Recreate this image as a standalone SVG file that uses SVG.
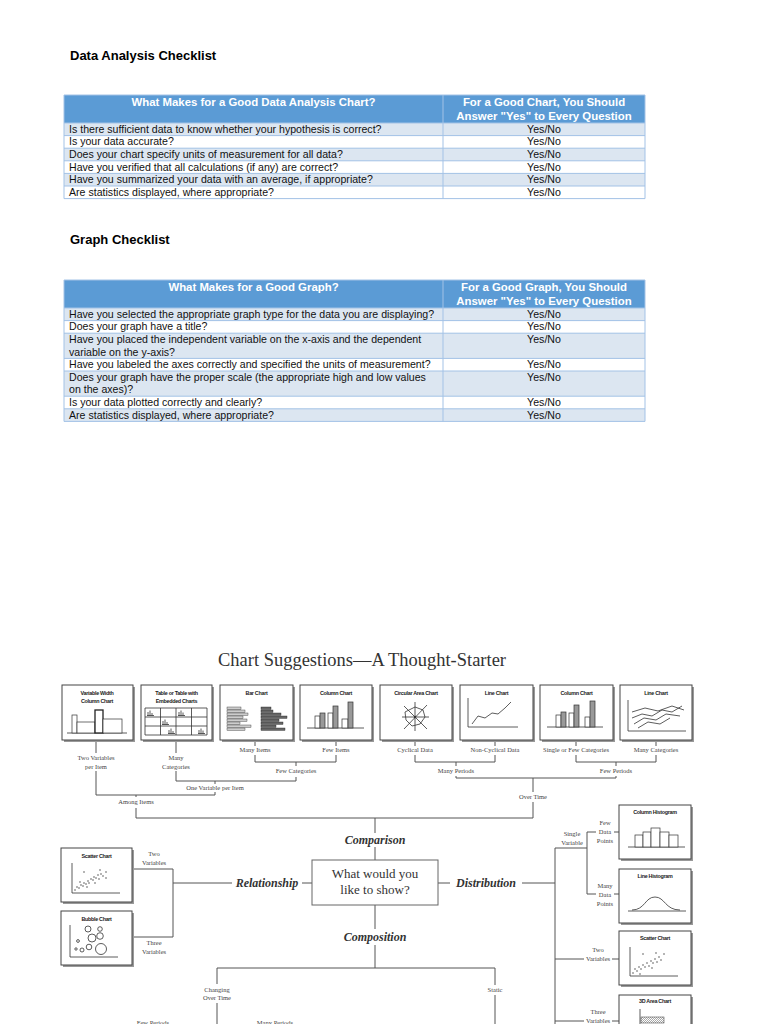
<svg xmlns="http://www.w3.org/2000/svg" width="768" height="1024" viewBox="0 0 768 1024">
<style>
.h1{font-family:"Liberation Sans",Arial,sans-serif;font-weight:bold;font-size:13px;fill:#000}
.th{font-family:"Liberation Sans",Arial,sans-serif;font-weight:bold;font-size:11.4px;fill:#fff;text-anchor:middle}
.tt{font-family:"Liberation Sans",Arial,sans-serif;font-size:10.6px;fill:#111}
.yn{font-family:"Liberation Sans",Arial,sans-serif;font-size:10.6px;fill:#111;text-anchor:middle}
.hdr{fill:#5b9bd5}
.alt{fill:#dce6f1}
.grid{stroke:#a3c2e6;stroke-width:1;fill:none}
.title{font-family:"Liberation Serif","Times New Roman",serif;font-size:19px;fill:#333}
.lbl{font-family:"Liberation Serif","Times New Roman",serif;font-size:6.5px;fill:#444;text-anchor:middle}
.big{font-family:"Liberation Serif","Times New Roman",serif;font-size:12px;font-weight:bold;font-style:italic;fill:#333;text-anchor:middle}
.q{font-family:"Liberation Serif","Times New Roman",serif;font-size:13px;fill:#333;text-anchor:middle}
.bt{font-family:"Liberation Sans",Arial,sans-serif;font-size:5.4px;font-weight:bold;fill:#222;text-anchor:middle;letter-spacing:-0.3px}
.box{fill:#fff;stroke:#444;stroke-width:1}
.sh{fill:#999}
.con{stroke:#555;stroke-width:1;fill:none}
.ic{stroke:#333;stroke-width:0.8;fill:none}
.wc{stroke:#333;stroke-width:0.7;fill:#fff}
.gc{stroke:#333;stroke-width:0.7;fill:#999}
.dot{fill:#333}
</style>
<defs>
<pattern id="hatch" width="2" height="2" patternUnits="userSpaceOnUse"><path d="M0,2 L2,0" stroke="#555" stroke-width="0.5"/></pattern>
</defs>

<!-- Data Analysis Checklist -->
<g id="table1">
<text class="h1" x="70" y="60">Data Analysis Checklist</text>
<rect class="hdr" x="64" y="95" width="581" height="28"/>
<rect class="alt" x="64" y="123" width="581" height="12.6"/>
<rect class="alt" x="64" y="148.2" width="581" height="12.6"/>
<rect class="alt" x="64" y="173.4" width="581" height="12.6"/>
<path class="grid" d="M64,95 H645 V198.6 H64 Z M64,123 H645 M64,135.6 H645 M64,148.2 H645 M64,160.8 H645 M64,173.4 H645 M64,186 H645 M443,95 V198.6"/>
<text class="th" x="253.5" y="106">What Makes for a Good Data Analysis Chart?</text>
<text class="th" x="544" y="106">For a Good Chart, You Should</text>
<text class="th" x="544" y="120">Answer "Yes" to Every Question</text>
<text class="tt" x="69" y="132.8">Is there sufficient data to know whether your hypothesis is correct?</text>
<text class="tt" x="69" y="145.4">Is your data accurate?</text>
<text class="tt" x="69" y="158">Does your chart specify units of measurement for all data?</text>
<text class="tt" x="69" y="170.6">Have you verified that all calculations (if any) are correct?</text>
<text class="tt" x="69" y="183.2">Have you summarized your data with an average, if appropriate?</text>
<text class="tt" x="69" y="195.8">Are statistics displayed, where appropriate?</text>
<text class="yn" x="544" y="132.8">Yes/No</text>
<text class="yn" x="544" y="145.4">Yes/No</text>
<text class="yn" x="544" y="158">Yes/No</text>
<text class="yn" x="544" y="170.6">Yes/No</text>
<text class="yn" x="544" y="183.2">Yes/No</text>
<text class="yn" x="544" y="195.8">Yes/No</text>
</g>

<!-- Graph Checklist -->
<g id="table2">
<text class="h1" x="70" y="244">Graph Checklist</text>
<rect class="hdr" x="64" y="280" width="581" height="28"/>
<rect class="alt" x="64" y="308" width="581" height="12.6"/>
<rect class="alt" x="64" y="333.2" width="581" height="25.2"/>
<rect class="alt" x="64" y="371" width="581" height="25.2"/>
<rect class="alt" x="64" y="408.8" width="581" height="12.6"/>
<path class="grid" d="M64,280 H645 V421.4 H64 Z M64,308 H645 M64,320.6 H645 M64,333.2 H645 M64,358.4 H645 M64,371 H645 M64,396.2 H645 M64,408.8 H645 M443,280 V421.4"/>
<text class="th" x="253.5" y="291">What Makes for a Good Graph?</text>
<text class="th" x="544" y="291">For a Good Graph, You Should</text>
<text class="th" x="544" y="305">Answer "Yes" to Every Question</text>
<text class="tt" x="69" y="317.8">Have you selected the appropriate graph type for the data you are displaying?</text>
<text class="tt" x="69" y="330.4">Does your graph have a title?</text>
<text class="tt" x="69" y="343">Have you placed the independent variable on the x-axis and the dependent</text>
<text class="tt" x="69" y="355.6">variable on the y-axis?</text>
<text class="tt" x="69" y="368.2">Have you labeled the axes correctly and specified the units of measurement?</text>
<text class="tt" x="69" y="380.8">Does your graph have the proper scale (the appropriate high and low values</text>
<text class="tt" x="69" y="393.4">on the axes)?</text>
<text class="tt" x="69" y="406">Is your data plotted correctly and clearly?</text>
<text class="tt" x="69" y="418.6">Are statistics displayed, where appropriate?</text>
<text class="yn" x="544" y="317.8">Yes/No</text>
<text class="yn" x="544" y="330.4">Yes/No</text>
<text class="yn" x="544" y="343">Yes/No</text>
<text class="yn" x="544" y="368.2">Yes/No</text>
<text class="yn" x="544" y="380.8">Yes/No</text>
<text class="yn" x="544" y="406">Yes/No</text>
<text class="yn" x="544" y="418.6">Yes/No</text>
</g>

<text class="title" x="218" y="666" textLength="288" lengthAdjust="spacingAndGlyphs">Chart Suggestions—A Thought-Starter</text>

<!-- Connectors -->
<g id="connectors">
<path class="con" d="M96,740 V753 M176,740 V753 M96,771 V795 H215 V792 M176,771 V781 H296 V777 M296,762 V766 M215,781 V784"/>
<path class="con" d="M255,740 V746 M336,740 V746 M255,755 V762 H336 V755"/>
<path class="con" d="M136,795 V797 M136,808 V818 H533 V802"/>
<path class="con" d="M415,740 V746 M495,740 V746 M415,755 V762 H495 V755 M456,762 V766"/>
<path class="con" d="M576,740 V746 M656,740 V746 M576,755 V762 H656 V755 M616,762 V766"/>
<path class="con" d="M456,776 V778 H616 V776 M533,778 V792"/>
<path class="con" d="M375,818 V833 M375,847 V860"/>
<path class="con" d="M312,883 H302 M232,883 H173 M173,869 V937 M132,869 H173 M132,937 H173"/>
<path class="con" d="M438,883 H450 M522,883 H555 M555,848 V1024 M555,848 H587 M587,832 V894 M587,832 H596 M614,832 H619 M587,894 H596 M614,894 H619 M555,959 H584 M612,959 H619 M555,1021 H584 M612,1021 H619"/>
<path class="con" d="M375,905 V929 M375,945 V968 M217,968 H495 M217,968 V984 M217,1003 V1024 M495,968 V985 M495,995 V1024"/>
</g>

<!-- connector labels -->
<g id="labels">
<text class="lbl" x="96" y="760">Two Variables</text>
<text class="lbl" x="96" y="769">per Item</text>
<text class="lbl" x="176" y="760">Many</text>
<text class="lbl" x="176" y="769">Categories</text>
<text class="lbl" x="255" y="752">Many Items</text>
<text class="lbl" x="336" y="752">Few Items</text>
<text class="lbl" x="296" y="773">Few Categories</text>
<text class="lbl" x="215" y="790">One Variable per Item</text>
<text class="lbl" x="136" y="804">Among Items</text>
<text class="lbl" x="415" y="752">Cyclical Data</text>
<text class="lbl" x="495" y="752">Non-Cyclical Data</text>
<text class="lbl" x="576" y="752">Single or Few Categories</text>
<text class="lbl" x="656" y="752">Many Categories</text>
<text class="lbl" x="456" y="773">Many Periods</text>
<text class="lbl" x="616" y="773">Few Periods</text>
<text class="lbl" x="533" y="799">Over Time</text>
<text class="big" x="375" y="844">Comparison</text>
<text class="big" x="267" y="887">Relationship</text>
<text class="big" x="486" y="887">Distribution</text>
<text class="big" x="375" y="941">Composition</text>
<text class="lbl" x="154" y="856">Two</text>
<text class="lbl" x="154" y="865">Variables</text>
<text class="lbl" x="154" y="945">Three</text>
<text class="lbl" x="154" y="954">Variables</text>
<text class="lbl" x="217" y="992">Changing</text>
<text class="lbl" x="217" y="1000">Over Time</text>
<text class="lbl" x="495" y="992">Static</text>
<text class="lbl" x="153" y="1025">Few Periods</text>
<text class="lbl" x="275" y="1025">Many Periods</text>
<text class="lbl" x="572" y="836">Single</text>
<text class="lbl" x="572" y="845">Variable</text>
<text class="lbl" x="605" y="825">Few</text>
<text class="lbl" x="605" y="834">Data</text>
<text class="lbl" x="605" y="843">Points</text>
<text class="lbl" x="605" y="888">Many</text>
<text class="lbl" x="605" y="897">Data</text>
<text class="lbl" x="605" y="906">Points</text>
<text class="lbl" x="598" y="952">Two</text>
<text class="lbl" x="598" y="961">Variables</text>
<text class="lbl" x="598" y="1014">Three</text>
<text class="lbl" x="598" y="1023">Variables</text>
</g>

<!-- center question -->
<g id="question">
<rect x="312" y="860" width="126" height="45" fill="#fff" stroke="#666" stroke-width="1"/>
<text class="q" x="375" y="878">What would you</text>
<text class="q" x="375" y="894">like to show?</text>
</g>

<!-- top row boxes -->
<g id="varwidth">
<rect class="sh" x="64" y="687" width="71" height="55"/>
<rect class="box" x="62" y="685" width="71" height="55"/>
<text class="bt" x="97" y="695">Variable Width</text>
<text class="bt" x="97" y="703">Column Chart</text>
<path class="ic" d="M67,733 H127"/>
<rect class="wc" x="72" y="715" width="5" height="18"/>
<rect class="wc" x="77" y="722" width="18" height="11"/>
<rect x="95" y="710" width="8" height="23" fill="#fff" stroke="#222" stroke-width="1.3"/>
<rect class="wc" x="103" y="719" width="19" height="14"/>
</g>

<g id="table-chart">
<rect class="sh" x="143" y="687" width="71" height="55"/>
<rect class="box" x="141" y="685" width="71" height="55"/>
<text class="bt" x="176.5" y="695">Table or Table with</text>
<text class="bt" x="176.5" y="703">Embedded Charts</text>
<path class="ic" d="M145,708 H207 V735 H145 Z M160.5,708 V735 M176,708 V735 M191.5,708 V735 M145,717 H207 M145,726 H207" stroke-width="0.6"/>
<path class="ic" stroke-width="0.5" d="M147,715.5 H154 M148,715.5 V712 M150,715.5 V710.5 M152,715.5 V713 M178,715.5 H185 M179,715.5 V712 M181,715.5 V710.5 M183,715.5 V712.5 M162,724.5 H169 M163,724.5 V721 M165,724.5 V719.5 M167,724.5 V722 M168,733.5 H175 M169,733.5 V730 M171,733.5 V728.5 M173,733.5 V731 M198,733.5 H205 M199,733.5 V730 M201,733.5 V728.5 M203,733.5 V730.5"/>
</g>

<g id="bar-chart">
<rect class="sh" x="222" y="687" width="73" height="55"/>
<rect class="box" x="220" y="685" width="73" height="55"/>
<text class="bt" x="256.5" y="695">Bar Chart</text>
<g fill="#ccc" stroke="#333" stroke-width="0.4">
<rect x="227" y="707" width="14" height="2.4"/><rect x="227" y="710" width="18" height="2.4"/><rect x="227" y="713" width="21" height="2.4"/><rect x="227" y="716" width="16" height="2.4"/><rect x="227" y="719" width="20" height="2.4"/><rect x="227" y="722" width="13" height="2.4"/><rect x="227" y="725" width="24" height="2.4"/><rect x="227" y="728" width="18" height="2.4"/>
</g>
<g fill="#666" stroke="#222" stroke-width="0.4">
<rect x="261" y="707" width="10" height="2.4"/><rect x="261" y="710" width="12" height="2.4"/><rect x="261" y="713" width="20" height="2.4"/><rect x="261" y="716" width="26" height="2.4"/><rect x="261" y="719" width="18" height="2.4"/><rect x="261" y="722" width="22" height="2.4"/><rect x="261" y="725" width="15" height="2.4"/><rect x="261" y="728" width="24" height="2.4"/>
</g>
</g>

<g id="column-chart-1">
<rect class="sh" x="302" y="687" width="72" height="55"/>
<rect class="box" x="300" y="685" width="72" height="55"/>
<text class="bt" x="336" y="695">Column Chart</text>
<path class="ic" d="M307,728 H364"/>
<rect class="wc" x="315" y="716" width="5" height="12"/><rect class="gc" x="320" y="713" width="5" height="15"/>
<rect class="wc" x="328" y="713" width="5" height="15"/><rect class="gc" x="333" y="706" width="5" height="22"/>
<rect class="wc" x="342" y="719" width="6" height="9"/><rect class="gc" x="348" y="702" width="5" height="26"/>
</g>

<g id="circular-area">
<rect class="sh" x="382" y="687" width="72" height="55"/>
<rect class="box" x="380" y="685" width="72" height="55"/>
<text class="bt" x="416" y="695">Circular Area Chart</text>
<path class="ic" d="M402,717 H429 M415,702 V731 M404,706 L427,729 M427,705 L404,729"/>
<path class="ic" d="M415,707 L423,710 L425,717 L420,724 L412,726 L406,720 L405,712 Z" stroke-width="0.9"/>
<circle cx="415" cy="717" r="1.2" fill="#333"/>
</g>

<g id="line-chart-1">
<rect class="sh" x="462" y="687" width="73" height="55"/>
<rect class="box" x="460" y="685" width="73" height="55"/>
<text class="bt" x="496.5" y="695">Line Chart</text>
<path class="ic" d="M468,698 V727 H518"/>
<path class="ic" d="M472,724 L478,716 L485,718 L492,713 L498,714 L505,708 L511,702"/>
</g>

<g id="column-chart-2">
<rect class="sh" x="542" y="687" width="73" height="55"/>
<rect class="box" x="540" y="685" width="73" height="55"/>
<text class="bt" x="576.5" y="695">Column Chart</text>
<path class="ic" d="M547,727 H603"/>
<rect class="wc" x="556" y="715" width="5" height="12"/><rect class="gc" x="561" y="712" width="5" height="15"/>
<rect class="wc" x="569" y="713" width="5" height="14"/><rect class="gc" x="574" y="705" width="5" height="22"/>
<rect class="wc" x="585" y="717" width="5" height="10"/><rect class="gc" x="590" y="701" width="5" height="26"/>
</g>

<g id="line-chart-2">
<rect class="sh" x="622" y="687" width="72" height="55"/>
<rect class="box" x="620" y="685" width="72" height="55"/>
<text class="bt" x="656" y="695">Line Chart</text>
<path class="ic" d="M628,700 V731 H686"/>
<path class="ic" stroke-width="0.6" d="M632,712 L645,708 L658,711 L672,706 L684,710 M632,718 L642,714 L652,716 L662,710 L672,712 L682,706 M634,724 L644,718 L656,720 L666,714 L680,716 M638,728 L648,722 L660,724 L670,718"/>
</g>

<!-- left boxes -->
<g id="scatter-left">
<rect class="sh" x="63" y="850" width="71" height="54"/>
<rect class="box" x="61" y="848" width="71" height="54"/>
<text class="bt" x="96.5" y="858">Scatter Chart</text>
<path class="ic" d="M72,863 V893 H120"/>
<g class="dot">
<circle cx="75" cy="890" r="0.7"/><circle cx="77" cy="887" r="0.7"/><circle cx="79" cy="888" r="0.7"/><circle cx="81" cy="885" r="0.7"/><circle cx="83" cy="886" r="0.7"/><circle cx="84" cy="883" r="0.7"/><circle cx="86" cy="884" r="0.7"/><circle cx="88" cy="881" r="0.7"/><circle cx="89" cy="883" r="0.7"/><circle cx="91" cy="879" r="0.7"/><circle cx="93" cy="880" r="0.7"/><circle cx="94" cy="877" r="0.7"/><circle cx="96" cy="878" r="0.7"/><circle cx="98" cy="875" r="0.7"/><circle cx="99" cy="879" r="0.7"/><circle cx="101" cy="874" r="0.7"/><circle cx="103" cy="876" r="0.7"/><circle cx="106" cy="872" r="0.7"/><circle cx="87" cy="887" r="0.7"/><circle cx="95" cy="883" r="0.7"/><circle cx="80" cy="882" r="0.7"/><circle cx="100" cy="870" r="0.7"/><circle cx="106" cy="878" r="0.7"/><circle cx="84" cy="872" r="0.7"/>
</g>
</g>

<g id="bubble">
<rect class="sh" x="63" y="913" width="71" height="54"/>
<rect class="box" x="61" y="911" width="71" height="54"/>
<text class="bt" x="96.5" y="921">Bubble Chart</text>
<path class="ic" d="M70,925 V957 H118"/>
<g class="ic" stroke-width="0.6">
<circle cx="88" cy="929" r="3"/><circle cx="100" cy="929" r="2.3"/><circle cx="92" cy="938" r="4"/><circle cx="100" cy="936" r="3.3"/><circle cx="78" cy="941" r="1.4"/><circle cx="76" cy="949" r="1.2"/><circle cx="82" cy="950" r="2"/><circle cx="89" cy="947" r="2.8"/><circle cx="101" cy="949" r="5.5"/>
</g>
</g>

<!-- right boxes -->
<g id="column-histogram">
<rect class="sh" x="621" y="807" width="72" height="54"/>
<rect class="box" x="619" y="805" width="72" height="54"/>
<text class="bt" x="655" y="814">Column Histogram</text>
<path class="ic" d="M628,847 H685"/>
<rect class="wc" x="635" y="835" width="8" height="12"/><rect class="wc" x="643" y="832" width="8" height="15"/><rect class="wc" x="651" y="828" width="9" height="19"/><rect class="wc" x="660" y="832" width="9" height="15"/><rect class="wc" x="669" y="835" width="9" height="12"/>
</g>

<g id="line-histogram">
<rect class="sh" x="621" y="871" width="72" height="54"/>
<rect class="box" x="619" y="869" width="72" height="54"/>
<text class="bt" x="655" y="878">Line Histogram</text>
<path class="ic" d="M628,911 H686"/>
<path class="ic" d="M632,910 C645,910 645,897 655,897 C665,897 665,910 680,910"/>
</g>

<g id="scatter-right">
<rect class="sh" x="621" y="933" width="72" height="54"/>
<rect class="box" x="619" y="931" width="72" height="54"/>
<text class="bt" x="655" y="940">Scatter Chart</text>
<path class="ic" d="M630,947 V976 H678"/>
<g class="dot">
<circle cx="633" cy="973" r="0.7"/><circle cx="635" cy="969" r="0.7"/><circle cx="637" cy="971" r="0.7"/><circle cx="639" cy="967" r="0.7"/><circle cx="641" cy="969" r="0.7"/><circle cx="643" cy="965" r="0.7"/><circle cx="645" cy="967" r="0.7"/><circle cx="647" cy="963" r="0.7"/><circle cx="649" cy="966" r="0.7"/><circle cx="651" cy="961" r="0.7"/><circle cx="653" cy="963" r="0.7"/><circle cx="655" cy="959" r="0.7"/><circle cx="657" cy="962" r="0.7"/><circle cx="659" cy="957" r="0.7"/><circle cx="661" cy="960" r="0.7"/><circle cx="664" cy="954" r="0.7"/><circle cx="643" cy="954" r="0.7"/><circle cx="652" cy="968" r="0.7"/><circle cx="656" cy="953" r="0.7"/><circle cx="640" cy="974" r="0.7"/>
</g>
</g>

<g id="area-3d">
<rect class="sh" x="621" y="997" width="72" height="40"/>
<rect class="box" x="619" y="995" width="72" height="40"/>
<text class="bt" x="655" y="1003">3D Area Chart</text>
<path class="ic" d="M640,1009 V1026"/>
<rect x="641" y="1017" width="23" height="6" fill="url(#hatch)" stroke="#333" stroke-width="0.5"/>
</g>
</svg>
